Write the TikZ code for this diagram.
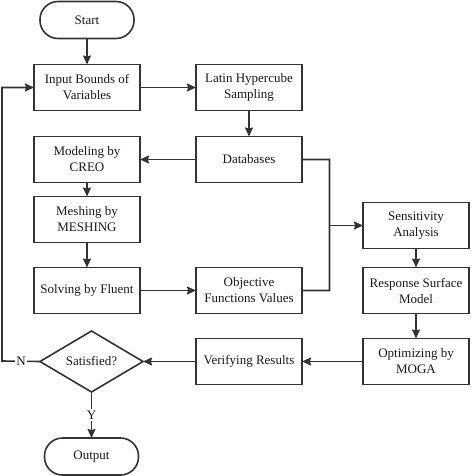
\documentclass[tikz,border=0pt]{standalone}
\usepackage{fontspec}
\setmainfont{Liberation Serif}
\usetikzlibrary{positioning, arrows.meta, calc, shapes.geometric}
\definecolor{linegray}{HTML}{333333}
\definecolor{textmain}{HTML}{1A1A1A}

\begin{document}
\begin{tikzpicture}[
    x=1pt, y=-1pt,
    box/.style={rectangle, draw=linegray, line width=1.6pt, fill=white, text=textmain,
                minimum width=106pt, minimum height=46pt, inner sep=2pt, outer sep=0pt,
                align=center, font=\fontsize{13}{16}\selectfont},
    terminal/.style={box, rounded corners=18pt, minimum width=94pt, minimum height=37pt},
    decision/.style={diamond, draw=linegray, line width=1.6pt, fill=white, text=textmain,
                minimum width=103pt, minimum height=61pt, inner sep=0pt, outer sep=0pt,
                font=\fontsize{13}{16}\selectfont},
    arrow/.style={-{Stealth[length=9pt, width=8pt, inset=1pt]}, line width=1.6pt, linegray},
    line/.style={line width=1.6pt, linegray},
    label/.style={text=textmain, fill=white, inner sep=1.5pt, font=\fontsize{13}{16}\selectfont}
  ]
    \useasboundingbox (0,0) rectangle (474,476);

    \node[terminal] (start) at (87,20) {Start};
    \node[box, below=26pt of start] (input) {Input Bounds of\\Variables};
    \node[box, right=56pt of input] (latin) {Latin Hypercube\\Sampling};
    \node[box, below=26pt of latin] (databases) {Databases};
    \node[box, left=56pt of databases] (modeling) {Modeling by\\CREO};
    \node[box, below=14pt of modeling] (meshing) {Meshing by\\MESHING};
    \node[box, below=25pt of meshing] (solving) {Solving by Fluent};
    \node[box, right=56pt of solving] (objective) {Objective\\Functions Values};
    \node[box, right=61pt of objective] (response) {Response Surface\\Model};
    \node[box, above=19pt of response] (sensitivity) {Sensitivity\\Analysis};
    \node[box, below=25pt of response] (optimizing) {Optimizing by\\MOGA};
    \node[box, left=61pt of optimizing] (verifying) {Verifying Results};
    \node[decision, left=53pt of verifying] (satisfied) {Satisfied?};
    \node[terminal, below=46pt of satisfied] (output) {Output};

    \coordinate (bus) at ($(objective.east)!0.45!(response.west)$);
    \coordinate (back) at (2,361);

    \draw[arrow] (start) -- (input);
    \draw[arrow] (input) -- (latin);
    \draw[arrow] (latin) -- (databases);
    \draw[arrow] (databases) -- (modeling);
    \draw[arrow] (modeling) -- (meshing);
    \draw[arrow] (meshing) -- (solving);
    \draw[arrow] (solving) -- (objective);
    \draw[line] (databases.east) -| (bus) -- (objective.east);
    \draw[arrow] (bus |- sensitivity.west) -- (sensitivity.west);
    \draw[arrow] (sensitivity) -- (response);
    \draw[arrow] (response) -- (optimizing);
    \draw[arrow] (optimizing) -- (verifying);
    \draw[arrow] (verifying) -- (satisfied);
    \draw[arrow] (satisfied.west) -- node[label]{N} (back) |- (input.west);
    \draw[arrow] (satisfied.south) -- node[label]{Y} (output);
  \end{tikzpicture}
\end{document}
